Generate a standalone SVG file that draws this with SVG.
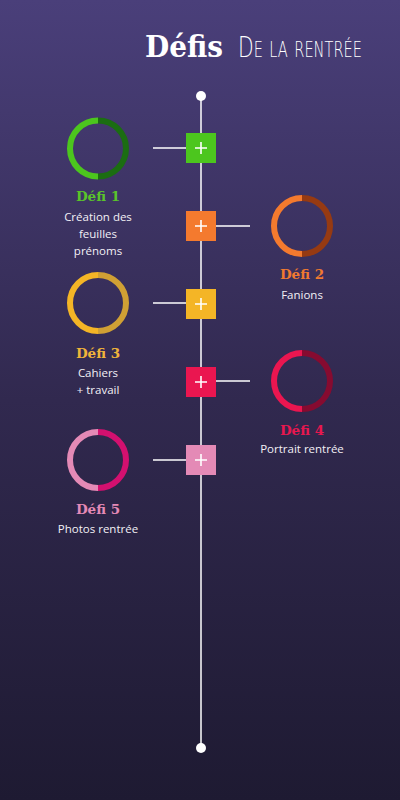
<svg xmlns="http://www.w3.org/2000/svg" width="400" height="800" viewBox="0 0 400 800">
<defs>
<linearGradient id="bg" x1="0" y1="0" x2="0" y2="1">
<stop offset="0" stop-color="#4a3f7a"/>
<stop offset="0.5" stop-color="#31294f"/>
<stop offset="1" stop-color="#1e1a32"/>
</linearGradient>
<g id="plus"><path d="M-6 0H6M0 -6V6" stroke="#fff" stroke-width="1.6" fill="none"/></g>
</defs>
<style>
.ring{fill:none;stroke-width:6}
.lbl{font-family:"DejaVu Serif",serif;font-weight:bold;font-size:13.5px;text-anchor:middle}
.desc{font-family:"Open Sans","Liberation Sans",sans-serif;font-size:11.5px;fill:#f2f0f5;text-anchor:middle}
.conn{stroke:#fff;stroke-width:1.5;fill:none}
</style>
<rect width="400" height="800" fill="url(#bg)"/>
<g id="title">
<text x="145" y="57" font-family="'DejaVu Serif',serif" font-weight="bold" font-size="30" fill="#fff" textLength="78" lengthAdjust="spacingAndGlyphs">Défis</text>
<text transform="translate(238 57) scale(1 1.2)" x="0" y="0" font-family="'DejaVu Sans',sans-serif" font-weight="200" font-size="24" fill="#fff" font-variant="small-caps" textLength="124" lengthAdjust="spacingAndGlyphs">De la rentrée</text>
</g>
<g id="connectors">
<line class="conn" x1="201" y1="96" x2="201" y2="748"/>
<circle cx="201" cy="96" r="5" fill="#fff"/>
<circle cx="201" cy="748" r="5" fill="#fff"/>
<line class="conn" x1="153" y1="148" x2="187" y2="148"/>
<line class="conn" x1="215" y1="226" x2="250" y2="226"/>
<line class="conn" x1="153" y1="303" x2="187" y2="303"/>
<line class="conn" x1="215" y1="381" x2="250" y2="381"/>
<line class="conn" x1="153" y1="460" x2="187" y2="460"/>
</g>
<g id="node1">
<path class="ring" stroke="#4cc61e" d="M98 120.5A28 28 0 0 0 98 176.5"/>
<path class="ring" stroke="#1b6d12" d="M98 120.5A28 28 0 0 1 98 176.5"/>
<rect x="186" y="133" width="30" height="30" fill="#4cc61e"/>
<use href="#plus" x="201" y="148"/>
<text class="lbl" x="98" y="201" fill="#5ac42a">Défi 1</text>
<text class="desc" x="98" y="221">Création des</text>
<text class="desc" x="98" y="238">feuilles</text>
<text class="desc" x="98" y="255">prénoms</text>
</g>
<g id="node2">
<path class="ring" stroke="#f47a2e" d="M302 198A28 28 0 0 0 302 254"/>
<path class="ring" stroke="#963a12" d="M302 198A28 28 0 0 1 302 254"/>
<rect x="186" y="211" width="30" height="30" fill="#f47a2e"/>
<use href="#plus" x="201" y="226"/>
<text class="lbl" x="302" y="279" fill="#f07a30">Défi 2</text>
<text class="desc" x="302" y="299">Fanions</text>
</g>
<g id="node3">
<path class="ring" stroke="#f4b526" d="M98 275A28 28 0 0 0 98 331"/>
<path class="ring" stroke="#d0a034" d="M98 275A28 28 0 0 1 98 331"/>
<rect x="186" y="289" width="30" height="30" fill="#f4b526"/>
<use href="#plus" x="201" y="304"/>
<text class="lbl" x="98" y="358" fill="#f0b43a">Défi 3</text>
<text class="desc" x="98" y="377">Cahiers</text>
<text class="desc" x="98" y="394">+ travail</text>
</g>
<g id="node4">
<path class="ring" stroke="#ea1650" d="M302 353A28 28 0 0 0 302 409"/>
<path class="ring" stroke="#860b30" d="M302 353A28 28 0 0 1 302 409"/>
<rect x="186" y="367" width="30" height="30" fill="#ea1650"/>
<use href="#plus" x="201" y="382"/>
<text class="lbl" x="302" y="435" fill="#e8174f">Défi 4</text>
<text class="desc" x="302" y="453">Portrait rentrée</text>
</g>
<g id="node5">
<path class="ring" stroke="#e48ab6" d="M98 432A28 28 0 0 0 98 488"/>
<path class="ring" stroke="#d3106f" d="M98 432A28 28 0 0 1 98 488"/>
<rect x="186" y="445" width="30" height="30" fill="#e48ab6"/>
<use href="#plus" x="201" y="460"/>
<text class="lbl" x="98" y="514" fill="#e48ab6">Défi 5</text>
<text class="desc" x="98" y="533">Photos rentrée</text>
</g>
</svg>
